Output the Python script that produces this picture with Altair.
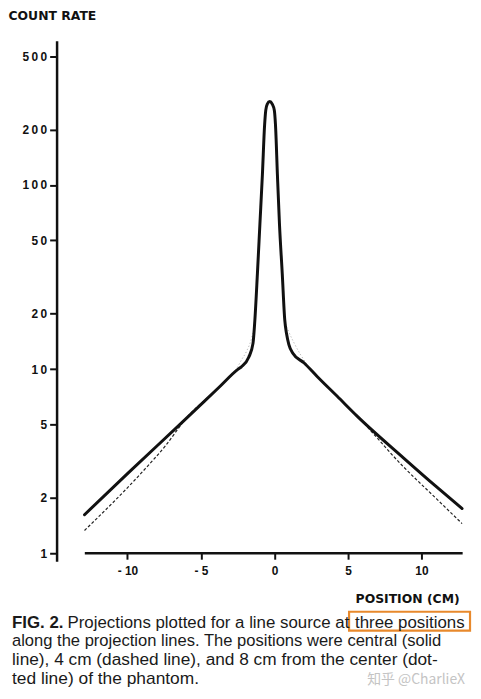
import altair as alt
import pandas as pd

# ---------------- data ----------------
# central source (solid line)
solid_pos = [-12.92, -9.89, -6.30, -3.82, -2.47, -2.25, -1.75, -1.46, -1.35,
             -1.16, -0.99, -0.82, -0.67, -0.59, -0.49, -0.32, -0.15, -0.01,
             0.07, 0.20, 0.34, 0.53, 0.70, 0.82, 0.98, 1.25, 2.02, 2.92,
             4.27, 5.62, 8.77, 11.01, 12.76]
solid_count = [1.62, 2.76, 5.12, 7.9, 10.0, 10.3, 11.6, 13.8, 17.6,
               33.0, 61.4, 114, 212, 255, 275, 284, 275, 255,
               212, 114, 61.4, 33.0, 18.5, 15.6, 13.6, 12.2, 10.8, 9.1,
               7.12, 5.56, 3.30, 2.30, 1.75]

# 4 cm from centre (dashed line)
dashed_pos = [-12.92, -8.77, -7.42, -6.07, -3.82, -2.47, -2.25, -1.75, -1.46, -1.35,
              -1.16, -0.99, -0.82, -0.67, -0.59, -0.49, -0.32, -0.15, -0.01,
              0.07, 0.20, 0.34, 0.53, 0.70, 0.82, 0.98, 1.25, 2.02, 2.92,
              4.27, 5.48, 8.77, 11.01, 12.76]
dashed_count = [1.33, 2.89, 3.83, 5.33, 7.9, 10.0, 10.3, 11.6, 13.8, 17.6,
                33.0, 61.4, 114, 212, 255, 275, 284, 275, 255,
                212, 114, 61.4, 33.0, 18.5, 15.6, 13.6, 12.2, 10.8, 9.1,
                7.12, 5.72, 2.95, 1.98, 1.45]

# 8 cm from centre (dotted line)
dotted_pos = [-12.92, -9.89, -6.30, -3.82, -2.6, -2.25, -1.9, -1.55, -1.35,
              -1.16, -0.99, -0.82, -0.67, -0.59, -0.49, -0.32, -0.15, -0.01,
              0.07, 0.20, 0.34, 0.53, 0.70, 1.0, 1.35, 1.8, 2.3, 2.92,
              4.27, 5.62, 8.77, 11.01, 12.76]
dotted_count = [1.62, 2.76, 5.12, 7.9, 10.0, 11.2, 12.5, 14.8, 17.6,
                33.0, 61.4, 114, 212, 255, 275, 284, 275, 255,
                212, 114, 61.4, 33.0, 18.5, 15.8, 13.8, 11.9, 10.4, 9.1,
                7.12, 5.56, 3.30, 2.30, 1.75]

y_ticks = [1, 2, 5, 10, 20, 50, 100, 200, 500]
x_ticks = [-10, -5, 0, 5, 10]
x_axis_span = [-12.9, 12.8]
x_axis_level = [1]

y_title = "COUNT RATE"
x_title = "POSITION (CM)"
caption_fig = "FIG. 2."
caption_first = "Projections plotted for a line source at"
caption_highlight = "three positions"
caption_rest = [
    "along the projection lines. The positions were central (solid",
    "line), 4 cm (dashed line), and 8 cm from the center (dot-",
    "ted line) of the phantom.",
]
watermark = "知乎 @CharlieX"

# ---------------- tables ----------------
solid_df = pd.DataFrame({"pos": solid_pos, "count": solid_count, "i": range(len(solid_pos))})
dashed_df = pd.DataFrame({"pos": dashed_pos, "count": dashed_count, "i": range(len(dashed_pos))})
dotted_df = pd.DataFrame({"pos": dotted_pos, "count": dotted_count, "i": range(len(dotted_pos))})
rule_df = pd.DataFrame({"pos": [x_axis_span[0]], "pos2": [x_axis_span[1]], "count": x_axis_level})

x_scale = alt.Scale(domain=[-14.82, 12.83], nice=False, zero=False)
y_scale = alt.Scale(type="log", domain=[0.906, 608], nice=False)

LABEL_FONT = "Liberation Sans"
TITLE_FONT = "DejaVu Sans"

x_enc = alt.X(
    "pos:Q",
    scale=x_scale,
    axis=alt.Axis(
        values=x_ticks,
        domain=False,
        grid=False,
        offset=-8,
        tickSize=6,
        tickWidth=2,
        tickColor="#111",
        labelFont=LABEL_FONT,
        labelFontWeight="bold",
        labelFontSize=12,
        labelColor="#111",
        labelPadding=6,
        labelExpr="datum.value < 0 ? '- ' + abs(datum.value) : '' + datum.value",
        title=x_title,
        titleFont=TITLE_FONT,
        titleFontWeight="bold",
        titleFontSize=12.5,
        titleColor="#111",
        titleAlign="right",
        titleAnchor="end",
        titleBaseline="alphabetic",
        titleX=406,
        titleY=50,
    ),
)
y_enc = alt.Y(
    "count:Q",
    scale=y_scale,
    axis=alt.Axis(
        values=y_ticks,
        domain=True,
        domainWidth=2.5,
        domainColor="#111",
        grid=False,
        tickSize=7,
        tickWidth=2,
        tickColor="#111",
        labelFont=LABEL_FONT,
        labelFontWeight="bold",
        labelFontSize=12,
        labelColor="#111",
        labelPadding=3,
        labelExpr="join(split(format(datum.value, 'd'), ''), '\u2009')",
        title=y_title,
        titleFont=TITLE_FONT,
        titleFontWeight="bold",
        titleFontSize=12.5,
        titleColor="#111",
        titleAngle=0,
        titleAlign="left",
        titleBaseline="alphabetic",
        titleX=-49,
        titleY=-21,
    ),
)

dotted = alt.Chart(dotted_df).mark_line(
    color="#b0b0b0", strokeWidth=1, strokeDash=[1.2, 2.2], interpolate="monotone"
).encode(x=x_enc, y=y_enc, order="i:Q")

dashed = alt.Chart(dashed_df).mark_line(
    color="#222", strokeWidth=1.2, strokeDash=[3, 2], interpolate="monotone"
).encode(x=x_enc, y=y_enc, order="i:Q")

solid = alt.Chart(solid_df).mark_line(
    color="#111", strokeWidth=3, strokeJoin="round", strokeCap="round", interpolate="monotone"
).encode(x=x_enc, y=y_enc, order="i:Q")

xline = alt.Chart(rule_df).mark_rule(color="#111", strokeWidth=2.5).encode(
    x=x_enc, x2="pos2:Q", y=y_enc
)

one = alt.Data(values=[{"k": 1}])


def text_layer(txt, x, y, size=17, weight="normal", font=LABEL_FONT, color="#1a1a1a", align="left"):
    return alt.Chart(one).mark_text(
        text=txt, font=font, fontSize=size, fontWeight=weight, color=color,
        align=align, baseline="alphabetic"
    ).encode(x=alt.value(x), y=alt.value(y))


cap_layers = [
    text_layer(caption_fig, -45, 592, size=17, weight="bold"),
    text_layer(caption_first, 11, 592, size=17),
    text_layer(caption_highlight, 301, 592, size=17),
    text_layer(caption_rest[0], -45, 611, size=16.7),
    text_layer(caption_rest[1], -45, 630, size=17.4),
    text_layer(caption_rest[2], -45, 649, size=17.5),
    text_layer(watermark, 412, 649, size=14, font="Noto Sans CJK SC", color="#c4c4c4", align="right"),
]

box = alt.Chart(one).mark_rect(
    filled=False, stroke="#E8892C", strokeWidth=2.2
).encode(x=alt.value(295), x2=alt.value(417), y=alt.value(576), y2=alt.value(595))

chart = alt.layer(dotted, dashed, solid, xline, box, *cap_layers).properties(
    width=410,
    height=525,
    padding={"left": 49, "top": 30, "right": 10, "bottom": 128},
    autosize=alt.AutoSizeParams(type="none"),
    background="white",
).configure_view(stroke=None)

chart.save("out.html", embed_options={"renderer": "svg", "actions": False})
